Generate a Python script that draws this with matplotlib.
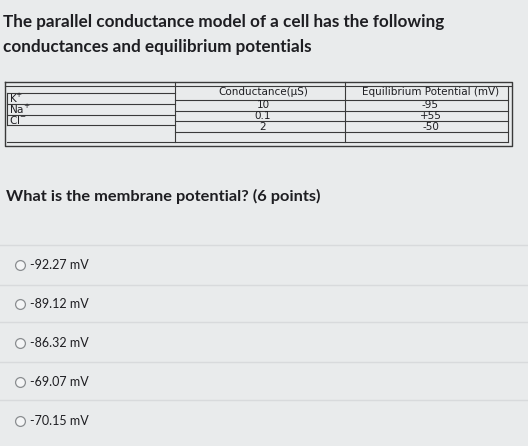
import matplotlib.pyplot as plt

# --- Data ---------------------------------------------------------------------
TITLE_LINES  = ["The parallel conductance model of a cell has the following",
                "conductances and equilibrium potentials"]
IONS         = ["K$^{+}$", "Na$^{+}$", "Cl$^{-}$"]
COL_HEADERS  = ["Conductance(\u03bcS)", "Equilibrium Potential (mV)"]
CONDUCTANCE  = ["10", "0.1", "2"]
EQ_POTENTIAL = ["-95", "+55", "-50"]
QUESTION     = "What is the membrane potential? (6 points)"
OPTIONS      = ["-92.27 mV", "-89.12 mV", "-86.32 mV", "-69.07 mV", "-70.15 mV"]

W, H = 528, 446
fig = plt.figure(figsize=(W / 100, H / 100), dpi=100)
fig.patch.set_facecolor("#e9ebec")
ax = fig.add_axes([0, 0, 1, 1])
ax.set_xlim(0, W)
ax.set_ylim(H, 0)
ax.axis("off")

txt = "#1e1e22"
for i, line in enumerate(TITLE_LINES):
    ax.text(3, 22 + 25 * i, line, fontsize=12.3, fontweight="bold", color=txt,
            va="center", ha="left", family="Lato")

# --- Table --------------------------------------------------------------------
left, c1, c2, right = 5, 175, 345, 512
top, bottom = 82, 146
lc = "#3a3a3a"
ax.plot([left, right, right, left, left], [top, top, bottom, bottom, top], color=lc, lw=1)
ax.plot([left, right], [top + 4, top + 4], color=lc, lw=0.8)
for x in (c1, c2):
    ax.plot([x, x], [top, bottom - 4], color=lc, lw=0.8)
ax.plot([left + 2, right - 4], [bottom - 4, bottom - 4], color=lc, lw=0.8)

right_rows = [100, 111, 121, 132]
left_rows = [93, 104, 115, 125]
for y in right_rows:
    ax.plot([c1, right - 4], [y, y], color=lc, lw=0.8)
for y in left_rows:
    ax.plot([left + 2, c1], [y, y], color=lc, lw=0.8)
ax.plot([left + 2, left + 2], [left_rows[0], left_rows[-1]], color=lc, lw=0.8)
ax.plot([right - 4, right - 4], [top + 4, bottom - 4], color=lc, lw=0.8)

ax.text((c1 + c2) / 2 + 3, 92, COL_HEADERS[0], fontsize=7.5, ha="center", va="center", color=txt)
ax.text((c2 + right) / 2 + 2, 92, COL_HEADERS[1], fontsize=7.5, ha="center", va="center", color=txt)
for i in range(len(IONS)):
    ax.text(9, 98.5 + 11 * i, IONS[i], fontsize=7.5, ha="left", va="center", color=txt)
    ax.text((c1 + c2) / 2 + 3, 105.5 + 10.5 * i, CONDUCTANCE[i], fontsize=7.5,
            ha="center", va="center", color=txt)
    ax.text((c2 + right) / 2 + 2, 105.5 + 10.5 * i, EQ_POTENTIAL[i], fontsize=7.5,
            ha="center", va="center", color=txt)

# --- Question and options -----------------------------------------------------
ax.text(6, 196, QUESTION, fontsize=11.8, fontweight="bold", color=txt,
        va="center", ha="left", family="Lato")

for y in (245, 285, 322, 362, 400):
    ax.plot([0, W], [y, y], color="#d8dadc", lw=1)

for i, opt in enumerate(OPTIONS):
    y = 265 + 39 * i
    ax.scatter([20], [y], s=50, facecolor="#f4f5f6", edgecolor="#8a8d90", lw=0.9)
    ax.text(30, y, opt, fontsize=9, color=txt, va="center", ha="left", family="Lato")

fig.savefig("out.png", dpi=100, facecolor=fig.get_facecolor())
